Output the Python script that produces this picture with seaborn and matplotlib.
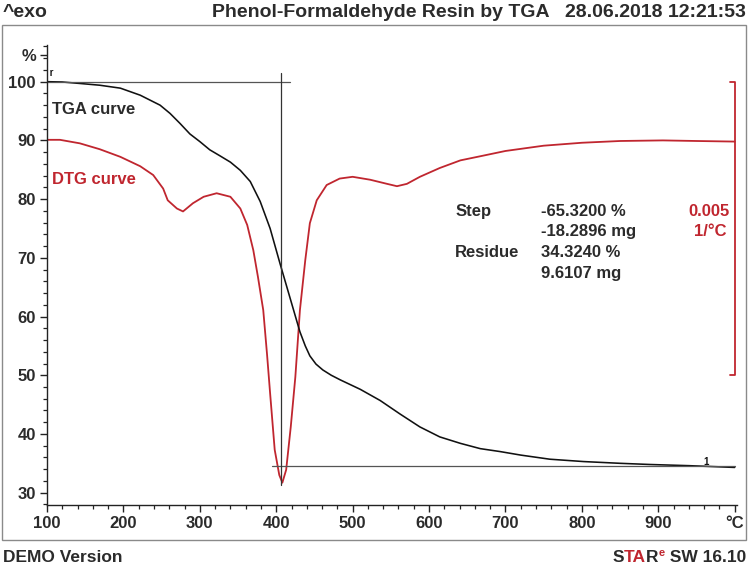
import numpy as np
import pandas as pd
import matplotlib
matplotlib.use("Agg")
import matplotlib.pyplot as plt
from matplotlib.patches import Rectangle
from matplotlib.ticker import MultipleLocator
import seaborn as sns

# ---------------- data ----------------
tga_temp = [100, 120, 143, 169, 196, 222, 248, 261, 274, 287, 300, 313, 326, 340, 353,
            366, 379, 392, 405, 418, 431, 438, 444, 452, 461, 472, 484, 510, 536, 562,
            588, 614, 641, 667, 693, 720, 758, 802, 850, 889, 940, 1000]
tga_mass = [100.0, 99.95, 99.7, 99.4, 98.9, 97.7, 96.0, 94.6, 92.9, 91.1, 89.8, 88.4,
            87.4, 86.3, 84.9, 83.0, 79.6, 75.0, 69.0, 63.2, 57.4, 55.0, 53.3, 51.9, 50.9,
            50.0, 49.2, 47.6, 45.7, 43.4, 41.2, 39.5, 38.4, 37.5, 37.0, 36.4, 35.7, 35.3,
            35.0, 34.8, 34.6, 34.3]

# DTG curve, drawn on the same vertical scale (scale bar: 50 units = 0.005 1/°C)
dtg_temp = [100, 104, 117, 143, 169, 196, 222, 239, 252, 258, 270, 278, 291, 305, 322,
            340, 353, 362, 370, 376, 383, 388, 392, 398, 404, 408, 413, 419, 425, 431,
            438, 444, 453, 466, 483, 500, 523, 545, 558, 571, 588, 614, 641, 667, 700,
            750, 800, 850, 906, 950, 1000]
dtg_value = [90.1, 90.1, 90.1, 89.5, 88.5, 87.2, 85.6, 84.1, 81.8, 79.8, 78.4, 77.9, 79.3,
             80.4, 81.0, 80.4, 78.4, 75.6, 71.3, 66.8, 61.1, 53.5, 46.9, 37.3, 33.0, 31.7,
             33.9, 41.2, 49.7, 61.1, 69.6, 75.9, 79.8, 82.4, 83.5, 83.8, 83.3, 82.6, 82.2,
             82.6, 83.8, 85.3, 86.6, 87.3, 88.2, 89.1, 89.6, 89.9, 90.0, 89.9, 89.8]

x_ticks = [100, 200, 300, 400, 500, 600, 700, 800, 900, 1000]
x_tick_labels = ["100", "200", "300", "400", "500", "600", "700", "800", "900", "°C"]
y_ticks = [30, 40, 50, 60, 70, 80, 90, 100, 104.5]
y_tick_labels = ["30", "40", "50", "60", "70", "80", "90", "100", "%"]

step_temp_marker = 406          # vertical evaluation line
step_start, step_end = 100.0, 34.6
result_labels = ["Step", "", "Residue", ""]
result_values = ["-65.3200 %", "-18.2896 mg", "34.3240 %", "9.6107 mg"]
scale_bar = ["0.005", "1/°C"]

# ---------------- styling ----------------
sns.set_style("ticks")
plt.rcParams["font.family"] = ["Liberation Sans", "DejaVu Sans"]

RED = "#c0262f"
DARK = "#2b2b2b"

fig = plt.figure(figsize=(7.5, 5.74), dpi=100)
ax = fig.add_axes([47 / 750, 69 / 574, 690 / 750, 460 / 574])

tga_df = pd.DataFrame({"T": tga_temp, "v": tga_mass})
dtg_df = pd.DataFrame({"T": dtg_temp, "v": dtg_value})
sns.lineplot(data=dtg_df, x="T", y="v", ax=ax, color=RED, lw=1.3, sort=False)
sns.lineplot(data=tga_df, x="T", y="v", ax=ax, color="#111111", lw=1.15, sort=False)
for ln in ax.lines:
    ln.set_solid_joinstyle("round")

ax.set_xlim(100, 1003)
ax.set_ylim(27.9, 106.25)
ax.set_xlabel("")
ax.set_ylabel("")

# evaluation lines
ax.plot([100, 418], [step_start, step_start], color="#555555", lw=0.9)
ax.plot([395, 1000], [step_end, step_end], color="#555555", lw=0.9)
ax.plot([step_temp_marker, step_temp_marker], [101.4, 31.3], color="#333333", lw=0.9)

# limit markers
ax.text(106, 99.9, "ʳ", fontsize=10, color="#111111", ha="center", va="bottom",
        fontweight="bold")
ax.text(963, 34.3, "1", fontsize=7, color="#111111", ha="center", va="bottom",
        fontweight="bold")

# DTG scale bar bracket
ax.plot([994, 1000, 1000, 994], [100.0, 100.0, 50.0, 50.0], color=RED, lw=1.3)

# spines / ticks
sns.despine(ax=ax, top=True, right=True)
for s in ("left", "bottom"):
    ax.spines[s].set_color("#222222")
    ax.spines[s].set_linewidth(1.0)
ax.set_xticks(x_ticks)
ax.set_xticklabels(x_tick_labels)
ax.set_yticks(y_ticks)
ax.set_yticklabels(y_tick_labels)
ax.xaxis.set_minor_locator(MultipleLocator(20))
ax.yaxis.set_minor_locator(MultipleLocator(2))
ax.tick_params(which="major", length=5, width=1.0, color="#222222", direction="out",
               labelsize=12, labelcolor=DARK, pad=3)
ax.tick_params(which="minor", length=3, width=0.9, color="#222222", direction="out")
for lab in ax.get_xticklabels() + ax.get_yticklabels():
    lab.set_fontweight("bold")

# curve labels
ax.text(106, 95.3, "TGA curve", fontsize=12, color=DARK, va="center", ha="left",
        fontweight="bold")
ax.text(106, 83.4, "DTG curve", fontsize=12, color=RED, va="center", ha="left",
        fontweight="bold")

# results block
rows_y = [77.85, 74.4, 70.9, 67.4]
for lab, val, yy in zip(result_labels, result_values, rows_y):
    if lab:
        ax.text(634, yy, lab, fontsize=12, color=DARK, va="center", ha="left",
                fontweight="bold")
    ax.text(747, yy, val, fontsize=12, color=DARK, va="center", ha="left",
            fontweight="bold")
ax.text(993, rows_y[0], scale_bar[0], fontsize=12, color=RED, va="center", ha="right",
        fontweight="bold")
ax.text(989, rows_y[1], scale_bar[1], fontsize=12, color=RED, va="center", ha="right",
        fontweight="bold")

# outer frame
fig.patches.append(Rectangle((2 / 750, 1 - 540 / 574), 744 / 750, 515 / 574,
                             transform=fig.transFigure, fill=False,
                             edgecolor="#8a8a8a", lw=1.0))

# header / footer
fig.text(3 / 750, 1 - 12.5 / 574, "^exo", fontsize=14, color=DARK, ha="left",
         va="center", fontweight="bold")
fig.text(746 / 750, 1 - 12.5 / 574,
         "Phenol-Formaldehyde Resin by TGA   28.06.2018 12:21:53",
         fontsize=14, color=DARK, ha="right", va="center", fontweight="bold")
fig.text(3 / 750, 1 - 557 / 574, "DEMO Version", fontsize=12.5, color=DARK,
         ha="left", va="center", fontweight="bold")

# STARe SW 16.10 with red letters
fig.canvas.draw()
r = fig.canvas.get_renderer()
t1 = fig.text(746 / 750, 1 - 557 / 574, " SW 16.10", fontsize=12.5, color=DARK,
              ha="right", va="center", fontweight="bold")
fig.canvas.draw()
x0 = t1.get_window_extent(r).x0
te = fig.text(x0 / fig.bbox.width, 1 - 553 / 574, "e", fontsize=8, color=RED,
              ha="right", va="center", fontweight="bold")
fig.canvas.draw()
x0 = te.get_window_extent(r).x0
tr = fig.text(x0 / fig.bbox.width, 1 - 557 / 574, "R", fontsize=12.5, color=DARK,
              ha="right", va="center", fontweight="bold")
fig.canvas.draw()
x0 = tr.get_window_extent(r).x0
tta = fig.text(x0 / fig.bbox.width, 1 - 557 / 574, "TA", fontsize=12.5, color=RED,
               ha="right", va="center", fontweight="bold")
fig.canvas.draw()
x0 = tta.get_window_extent(r).x0
fig.text(x0 / fig.bbox.width, 1 - 557 / 574, "S", fontsize=12.5, color=DARK,
         ha="right", va="center", fontweight="bold")

fig.savefig("out.png", dpi=100)
